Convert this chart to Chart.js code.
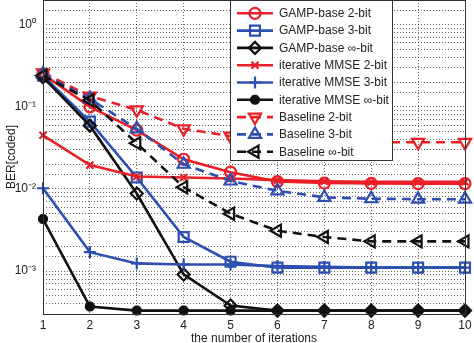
<!DOCTYPE html>
<html>
<head>
<meta charset="utf-8">
<script src="https://cdn.jsdelivr.net/npm/chart.js@4.4.1/dist/chart.umd.min.js"></script>
<style>
  html, body { margin: 0; padding: 0; background: #fff; overflow: hidden; }
  #wrap { width: 474px; height: 350px; position: relative; }
</style>
</head>
<body>
<div id="wrap"><canvas id="berChart"></canvas></div>
<script>
// values (BER, log axis)
const iterations = [1, 2, 3, 4, 5, 6, 7, 8, 9, 10];
const gamp2bit   = [0.25, 0.10, 0.052, 0.023, 0.016, 0.0123, 0.0118, 0.0117, 0.0116, 0.0116];
const gamp3bit   = [0.24, 0.066, 0.0138, 0.0026, 0.0013, 0.0011, 0.0011, 0.0011, 0.0011, 0.0011];
const gampInf    = [0.23, 0.059, 0.0088, 0.00091, 0.00038, 0.00033, 0.00033, 0.00033, 0.00033, 0.00033];
const mmse2bit   = [0.045, 0.0195, 0.0142, 0.0138, 0.0134, 0.0128, 0.0124, 0.0122, 0.0122, 0.0122];
const mmse3bit   = [0.0102, 0.0017, 0.00124, 0.0012, 0.0012, 0.00115, 0.00113, 0.0011, 0.0011, 0.0011];
const mmseInf    = [0.0043, 0.00037, 0.00033, 0.00033, 0.00033, 0.00033, 0.00033, 0.00033, 0.00033, 0.00033];
const base2bit   = [0.26, 0.135, 0.092, 0.054, 0.044, 0.040, 0.038, 0.037, 0.037, 0.037];
const base3bit   = [0.25, 0.125, 0.054, 0.020, 0.0125, 0.0095, 0.0079, 0.0076, 0.0075, 0.0075];
const baseInf    = [0.24, 0.12, 0.036, 0.0105, 0.005, 0.0031, 0.0026, 0.0023, 0.0023, 0.0023];

const xTicks = [1, 2, 3, 4, 5, 6, 7, 8, 9, 10];
const yMin = 3e-4, yMax = 2;
const yDecadeLabels = { "-3": "10\u207B\u00B3", "-2": "10\u207B\u00B2", "-1": "10\u207B\u00B9", "0": "10\u2070" };

const RED = '#ea1f27', BLUE = '#2d4fb0', BLACK = '#111111';
const NONE = 'rgba(0,0,0,0)';
const FONT = '"Liberation Sans", Arial, sans-serif';

function series(label, values, color, style, extra) {
    return Object.assign({
        label,
        data: iterations.map((x, i) => ({ x, y: values[i] })),
        borderColor: color,
        borderWidth: 2.6,
        pointStyle: style,
        pointRadius: 6,
        pointBorderWidth: 2.2,
        pointBorderColor: color,
        pointBackgroundColor: NONE,
        fill: false,
        clip: false,
        tension: 0
    }, extra || {});
}

const datasets = [
    series('GAMP-base 2-bit', gamp2bit, RED, 'circle', { pointRadius: 5.5 }),
    series('GAMP-base 3-bit', gamp3bit, BLUE, 'rect', { pointRadius: 7 }),
    series('GAMP-base \u221E-bit', gampInf, BLACK, 'rectRot', { pointRadius: 6 }),
    series('iterative MMSE 2-bit', mmse2bit, RED, 'crossRot', { pointRadius: 5 }),
    series('iterative MMSE 3-bit', mmse3bit, BLUE, 'cross', { pointRadius: 6 }),
    series('iterative MMSE \u221E-bit', mmseInf, BLACK, 'star', { pointRadius: 5, pointBorderWidth: 3.5 }),
    series('Baseline 2-bit', base2bit, RED, 'triangle', { pointRadius: 7, pointRotation: 180, borderDash: [9, 6] }),
    series('Baseline 3-bit', base3bit, BLUE, 'triangle', { pointRadius: 7, borderDash: [9, 6] }),
    series('Baseline \u221E-bit', baseInf, BLACK, 'triangle', { pointRadius: 7, pointRotation: 270, borderDash: [9, 6] })
];
// matlab draws later curves on top
datasets.forEach((d, i) => d.order = -i);

const frame = {
    id: 'frame',
    afterDatasetsDraw(chart) {
        const { ctx, chartArea: a } = chart;
        ctx.save();
        ctx.strokeStyle = '#333';
        ctx.lineWidth = 1;
        ctx.strokeRect(a.left + 0.5, a.top + 0.5, a.right - a.left, a.bottom - a.top);
        ctx.restore();
    }
};

const boxLegend = {
    id: 'boxLegend',
    afterDraw(chart) {
        const ctx = chart.ctx;
        const x0 = 230, y0 = 0, w = 162, h = 160, rowH = 17.3;
        ctx.save();
        ctx.fillStyle = '#fff';
        ctx.fillRect(x0, y0, w, h);
        ctx.strokeStyle = '#333';
        ctx.lineWidth = 1;
        ctx.strokeRect(x0 + 0.5, y0 + 0.5, w, h);
        chart.data.datasets.forEach((ds, i) => {
            const cy = 13.3 + i * rowH;
            ctx.strokeStyle = ds.borderColor;
            ctx.lineWidth = ds.borderWidth;
            ctx.setLineDash(ds.borderDash || []);
            ctx.beginPath();
            ctx.moveTo(237, cy);
            ctx.lineTo(273, cy);
            ctx.stroke();
            ctx.setLineDash([]);
            ctx.lineWidth = ds.pointBorderWidth;
            ctx.fillStyle = ds.pointBackgroundColor;
            Chart.helpers.drawPoint(ctx, {
                pointStyle: ds.pointStyle,
                rotation: ds.pointRotation || 0,
                radius: ds.pointRadius,
                borderWidth: ds.pointBorderWidth
            }, 255, cy);
            ctx.fillStyle = '#222';
            ctx.font = '12px ' + FONT;
            ctx.textBaseline = 'middle';
            ctx.fillText(ds.label, 279, cy + 0.5);
        });
        ctx.restore();
    }
};

const gridStyle = { color: 'rgba(0,0,0,0.6)', lineWidth: 1, drawTicks: false };

new Chart(document.getElementById('berChart'), {
    type: 'line',
    data: { datasets },
    plugins: [frame, boxLegend],
    options: {
        responsive: true,
        maintainAspectRatio: false,
        animation: false,
        layout: { autoPadding: false, padding: { top: 0, right: 9, left: 0, bottom: 0 } },
        plugins: { legend: { display: false }, tooltip: { enabled: false } },
        scales: {
            x: {
                type: 'linear',
                min: 1,
                max: 10,
                afterBuildTicks: s => { s.ticks = xTicks.map(v => ({ value: v })); },
                afterFit: s => { s.height = 36; s.paddingLeft = 0; s.paddingRight = 0; },
                grid: gridStyle,
                border: { display: false, dash: [1, 2] },
                ticks: { color: '#222', font: { family: FONT, size: 12 }, padding: 4, maxRotation: 0 },
                title: { display: true, text: 'the number of iterations', color: '#222', font: { family: FONT, size: 12 }, padding: { top: 0, bottom: 4 } }
            },
            y: {
                type: 'logarithmic',
                min: yMin,
                max: yMax,
                afterFit: s => { s.width = 43; s.paddingTop = 0; s.paddingBottom = 0; },
                grid: gridStyle,
                border: { display: false, dash: [1, 2] },
                ticks: {
                    color: '#222',
                    font: { family: FONT, size: 12 },
                    padding: 7,
                    autoSkip: false,
                    callback: v => {
                        const k = Math.log10(v);
                        return Math.abs(k - Math.round(k)) < 1e-6 ? (yDecadeLabels[String(Math.round(k))] || '') : '';
                    }
                },
                title: { display: true, text: 'BER[coded]', color: '#222', font: { family: FONT, size: 12 }, padding: { top: 4, bottom: 0 } }
            }
        }
    }
});
</script>
</body>
</html>
